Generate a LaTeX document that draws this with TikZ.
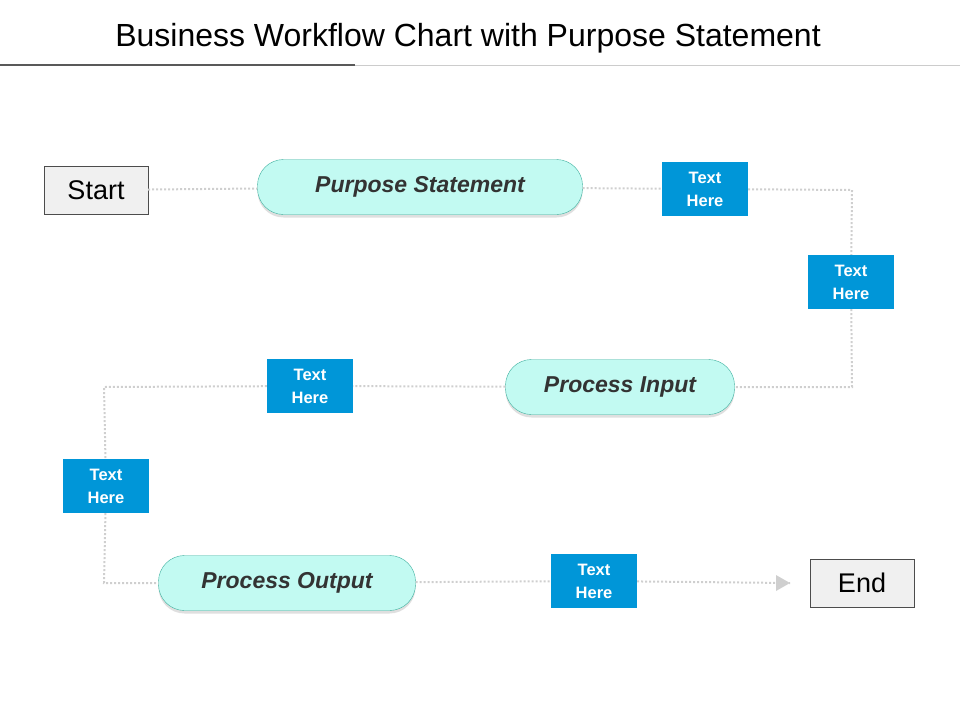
\documentclass[tikz,border=0pt]{standalone}
\usepackage{fontspec}
\setmainfont{Liberation Sans}
\usepackage{tikz}
\usetikzlibrary{arrows.meta}
\definecolor{boxblue}{HTML}{0096D8}
\definecolor{pillfill}{HTML}{C2FAF2}
\definecolor{pillline}{HTML}{3AAE9C}
\definecolor{flowgray}{HTML}{CFCFCF}
\tikzset{
  endbox/.style={draw=black!70, fill=black!6, minimum width=104pt, minimum height=48pt, font=\fontsize{27}{30}\selectfont},
  pill/.style={draw=pillline, fill=pillfill, rounded corners=26pt, minimum height=55pt, font=\fontsize{23}{26}\selectfont\bfseries\itshape, text=black!80,
    drop shadow={shadow xshift=0pt, shadow yshift=-3pt, fill=black!25}},
  textbox/.style={fill=boxblue, text=white, minimum width=86pt, minimum height=54pt, align=center, font=\fontsize{16.5}{23}\selectfont\bfseries},
  flow/.style={draw=flowgray, line width=2pt, dotted}
}
\usetikzlibrary{shadows}
\begin{document}
\begin{tikzpicture}[x=1pt, y=-1pt]
        \useasboundingbox (0,0) rectangle (960,720);
        % title
        \node[font=\fontsize{32}{36}\selectfont, inner sep=0pt] (title) at (468,38) {Business Workflow Chart with Purpose Statement};
        \draw[black!65, line width=2pt] (0,65) -- (355,65);
        \draw[black!20, line width=1pt] (355,65) -- (960,65);

        % Define nodes
        \node[endbox] (start) at (96,190) {Start};
        \node[pill, minimum width=325pt] (purpose) at (420,187) {Purpose Statement};
        \node[textbox] (t1) at (705,189) {Text\\Here};
        \node[textbox] (t2) at (851,282) {Text\\Here};
        \node[pill, minimum width=229pt] (input) at (620,387) {Process Input};
        \node[textbox] (t3) at (310,386) {Text\\Here};
        \node[textbox] (t4) at (106,486) {Text\\Here};
        \node[pill, minimum width=257pt] (output) at (287,583) {Process Output};
        \node[textbox] (t5) at (594,581) {Text\\Here};
        \node[endbox] (end) at (862,583) {End};
        \coordinate (c1) at (852,190);
        \coordinate (c2) at (852,387);
        \coordinate (c3) at (104,387);
        \coordinate (c4) at (104,583);
        \coordinate (tip) at (790,583);

        % Define flow connections
        \draw[flow] (start) -- (purpose);
        \draw[flow] (purpose) -- (t1);
        \draw[flow] (t1) -- (c1) -- (t2);
        \draw[flow] (t2) -- (c2) -- (input);
        \draw[flow] (input) -- (t3);
        \draw[flow] (t3) -- (c3) -- (t4);
        \draw[flow] (t4) -- (c4) -- (output);
        \draw[flow] (output) -- (t5);
        \draw[flow] (t5) -- (tip);
        \fill[flowgray] (tip) ++(-14,-8) -- ++(14,8) -- ++(-14,8) -- cycle;
    \end{tikzpicture}
\end{document}
